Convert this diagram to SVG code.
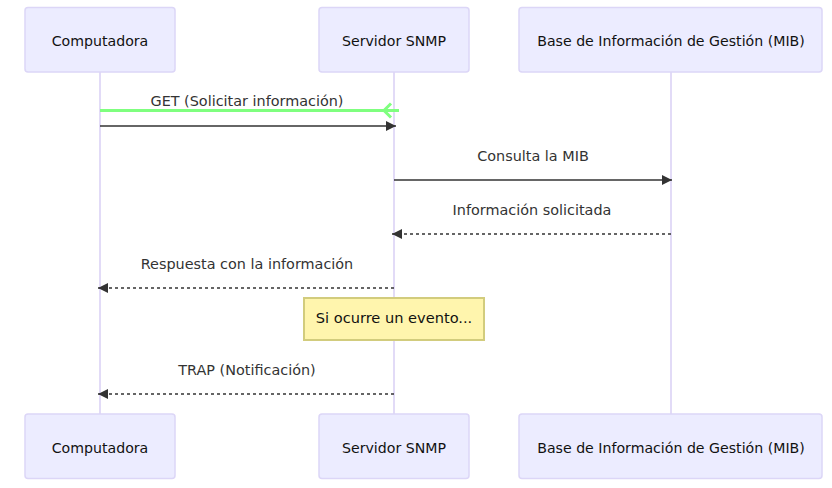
<svg xmlns="http://www.w3.org/2000/svg" width="832" height="488" viewBox="0 0 832 488">
<style>
text{font-family:"DejaVu Sans","Noto Sans","Liberation Sans",sans-serif;font-size:14.4px;text-anchor:middle;fill:#333}
.actor{fill:#ececff;stroke:#dcd6f7;stroke-width:1.5}
.at{fill:#111;font-size:14.15px}
.nt{fill:#111;font-size:14.6px}
.life{stroke:#d9d0f5;stroke-width:1.5;fill:none}
.msg{stroke:#333;stroke-width:1.5;fill:none}
.dash{stroke-dasharray:3 3}
.head{fill:#333}
</style>
<defs>
<marker id="ah" markerUnits="userSpaceOnUse" markerWidth="12" markerHeight="12" refX="10" refY="5" orient="auto"><path class="head" d="M0 0L10 5L0 10z"/></marker>
</defs>
<rect width="832" height="488" fill="#fff"/>
<g id="connectors">
<path class="life" d="M100 72V414M394 72V414M671 72V414"/>
<path d="M100 110.500H399" stroke="#7fff7f" stroke-width="3" fill="none"/>
<path d="M391 103.500L384 110.500L391 117.500" stroke="#7fff7f" stroke-width="3" fill="none"/>
<path class="msg" d="M100 126H396" marker-end="url(#ah)"/>
<path class="msg" d="M394 180H672" marker-end="url(#ah)"/>
<path class="msg dash" d="M671 234H392" marker-end="url(#ah)"/>
<path class="msg dash" d="M394 288H98" marker-end="url(#ah)"/>
<path class="msg dash" d="M394 394H98" marker-end="url(#ah)"/>
<text x="247" y="106">GET (Solicitar información)</text>
<text x="533" y="161">Consulta la MIB</text>
<text x="532" y="215">Información solicitada</text>
<text x="247" y="269">Respuesta con la información</text>
<text x="247" y="375">TRAP (Notificación)</text>
</g>
<g id="a1"><rect class="actor" x="25" y="7.500" width="150" height="64.500" rx="3"/><text class="at" x="100" y="46">Computadora</text></g>
<g id="a2"><rect class="actor" x="319" y="7.500" width="150" height="64.500" rx="3"/><text class="at" x="394" y="46">Servidor SNMP</text></g>
<g id="a3"><rect class="actor" x="519" y="7.500" width="303" height="64.500" rx="3"/><text class="at" x="671" y="46">Base de Información de Gestión (MIB)</text></g>
<g id="note"><rect x="304" y="298" width="180" height="42" fill="#fff5ad" stroke="#d2cc7d" stroke-width="2"/><text class="nt" x="394" y="323">Si ocurre un evento...</text></g>
<g id="b1"><rect class="actor" x="25" y="414" width="150" height="64.500" rx="3"/><text class="at" x="100" y="453">Computadora</text></g>
<g id="b2"><rect class="actor" x="319" y="414" width="150" height="64.500" rx="3"/><text class="at" x="394" y="453">Servidor SNMP</text></g>
<g id="b3"><rect class="actor" x="519" y="414" width="303" height="64.500" rx="3"/><text class="at" x="671" y="453">Base de Información de Gestión (MIB)</text></g>
</svg>
